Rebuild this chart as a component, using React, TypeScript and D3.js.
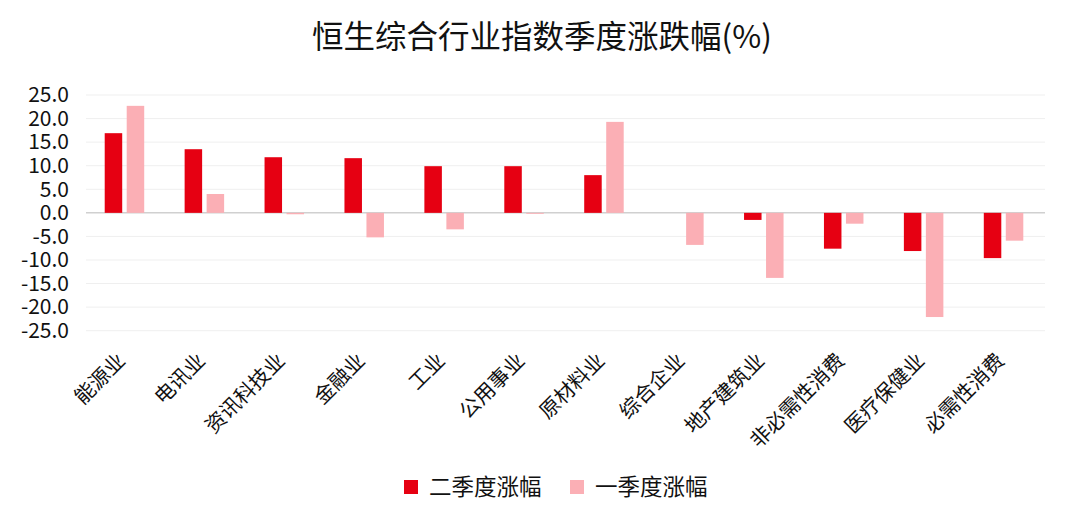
import React from "react";
import * as d3 from "d3";

const categories = ["能源业", "电讯业", "资讯科技业", "金融业", "工业", "公用事业", "原材料业", "综合企业", "地产建筑业", "非必需性消费", "医疗保健业", "必需性消费"];
const q2 = [16.9, 13.5, 11.8, 11.6, 9.9, 9.9, 8.0, 0.0, -1.5, -7.6, -8.1, -9.6];
const q1 = [22.7, 4.0, -0.3, -5.2, -3.5, -0.2, 19.3, -6.8, -13.8, -2.3, -22.1, -5.9];
const yTicks = [25, 20, 15, 10, 5, 0, -5, -10, -15, -20, -25];
const seriesNames = ["二季度涨幅", "一季度涨幅"];
const colors = ["#E60012", "#FBAFB5"];

const FONT = "'Noto Sans CJK SC', 'Noto Sans', sans-serif";

export default function App() {
  const W = 1080, H = 522;
  const left = 86, right = 1045, top = 95, bottom = 330.7;
  const x = d3.scaleBand<string>().domain(categories).range([left, right]).paddingInner(0).paddingOuter(0);
  const y = d3.scaleLinear().domain([-25, 25]).range([bottom, top]);
  const barW = 17.5, gap = 4.5;
  const series = [q2, q1];
  return (
    <svg width={W} height={H} style={{ position: "absolute", left: 0, top: 0, background: "#fff" }} fontFamily={FONT}>
      <text x={542} y={48} textAnchor="middle" fontSize={31.5} fill="#111">恒生综合行业指数季度涨跌幅(%)</text>
      {yTicks.map((t) => (
        <g key={t}>
          <line x1={left} x2={right} y1={y(t)} y2={y(t)} stroke={t === 0 ? "#d0d0d0" : "#efefef"} strokeWidth={t === 0 ? 1.5 : 1} />
          <text x={69} y={y(t)} dy="0.35em" textAnchor="end" fontSize={21} fill="#111">{t.toFixed(1)}</text>
        </g>
      ))}
      {categories.map((c, i) => {
        const cx = x(c)! + x.bandwidth() / 2 - 1.5;
        return (
          <g key={c}>
            {series.map((s, k) => {
              const v = s[i];
              const bx = k === 0 ? cx - gap / 2 - barW : cx + gap / 2;
              const y0 = y(0), y1 = y(v);
              return <rect key={k} x={bx} y={Math.min(y0, y1)} width={barW} height={Math.abs(y1 - y0)} fill={colors[k]} />;
            })}
            <text transform={`translate(${cx + 2},${362}) rotate(-45)`} textAnchor="end" fontSize={20.5} fill="#111">{c}</text>
          </g>
        );
      })}
      {seriesNames.map((n, k) => {
        const lx = k === 0 ? 404 : 570;
        return (
          <g key={n}>
            <rect x={lx} y={480} width={14} height={14} fill={colors[k]} />
            <text x={lx + 25} y={487} dy="0.36em" fontSize={22.5} fill="#111">{n}</text>
          </g>
        );
      })}
    </svg>
  );
}
